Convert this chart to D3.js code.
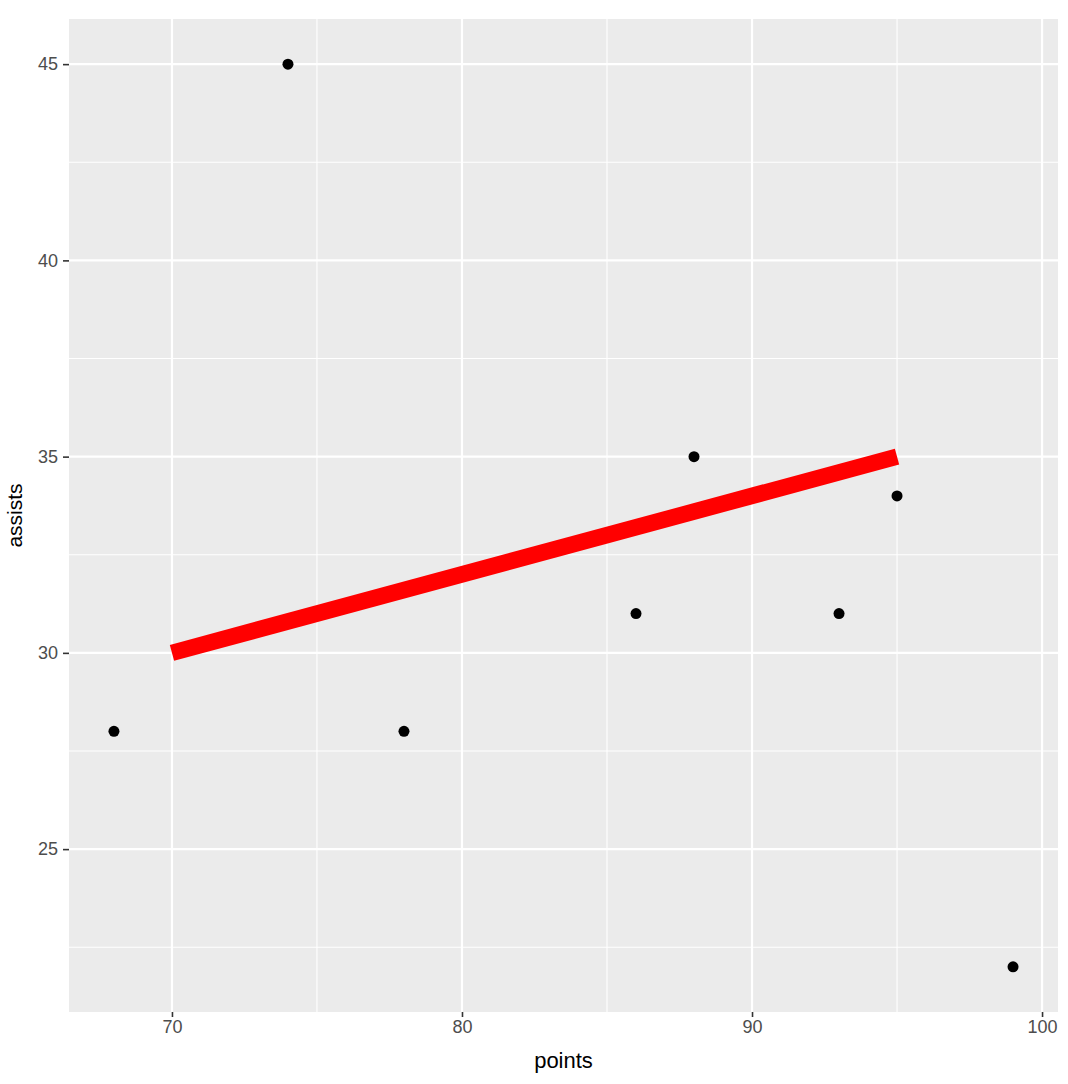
<!DOCTYPE html>
<html>
<head>
<meta charset="utf-8">
<script src="https://cdn.jsdelivr.net/npm/d3@7"></script>
<style>
  body { margin: 0; background: #fff; }
  text { font-family: "Liberation Sans", Arial, sans-serif; }
</style>
</head>
<body>
<div id="chart"></div>
<script>
// data
const points  = [68, 74, 78, 86, 88, 93, 95, 99];
const assists = [28, 45, 28, 31, 35, 31, 34, 22];
const segX = [70, 95];
const segY = [30, 35];
const xTicks = [70, 80, 90, 100];
const yTicks = [25, 30, 35, 40, 45];

const W = 1068, H = 1084;
const m = {top: 19, right: 10, bottom: 72, left: 69};

const svg = d3.select("#chart").append("svg")
    .attr("width", W).attr("height", H);

// ggplot style 5% expansion
const xr = d3.extent(points), yr = d3.extent(assists);
const xPad = (xr[1] - xr[0]) * 0.05, yPad = (yr[1] - yr[0]) * 0.05;

const x = d3.scaleLinear()
    .domain([xr[0] - xPad, xr[1] + xPad])
    .range([m.left, W - m.right]);
const y = d3.scaleLinear()
    .domain([yr[0] - yPad, yr[1] + yPad])
    .range([H - m.bottom, m.top]);

// panel
svg.append("rect")
    .attr("x", m.left).attr("y", m.top)
    .attr("width", W - m.right - m.left)
    .attr("height", H - m.bottom - m.top)
    .attr("fill", "#ebebeb");

const grid = svg.append("g");
// minor grid
const xMinor = xTicks.slice(0, -1).map(d => d + 5).concat([xTicks[0] - 5]);
const yMinor = yTicks.map(d => d - 2.5);
grid.selectAll(".xmin").data(xMinor.filter(d => d > x.domain()[0] && d < x.domain()[1]))
  .join("line")
    .attr("x1", d => x(d)).attr("x2", d => x(d))
    .attr("y1", m.top).attr("y2", H - m.bottom)
    .attr("stroke", "#fff").attr("stroke-width", 1.1);
grid.selectAll(".ymin").data(yMinor.filter(d => d > y.domain()[0] && d < y.domain()[1]))
  .join("line")
    .attr("y1", d => y(d)).attr("y2", d => y(d))
    .attr("x1", m.left).attr("x2", W - m.right)
    .attr("stroke", "#fff").attr("stroke-width", 1.1);
// major grid
grid.selectAll(".xmaj").data(xTicks)
  .join("line")
    .attr("x1", d => x(d)).attr("x2", d => x(d))
    .attr("y1", m.top).attr("y2", H - m.bottom)
    .attr("stroke", "#fff").attr("stroke-width", 2.2);
grid.selectAll(".ymaj").data(yTicks)
  .join("line")
    .attr("y1", d => y(d)).attr("y2", d => y(d))
    .attr("x1", m.left).attr("x2", W - m.right)
    .attr("stroke", "#fff").attr("stroke-width", 2.2);

// axes
const xAxis = svg.append("g")
    .attr("transform", `translate(0,${H - m.bottom})`)
    .call(d3.axisBottom(x).tickValues(xTicks).tickSize(5).tickPadding(3));
const yAxis = svg.append("g")
    .attr("transform", `translate(${m.left},0)`)
    .call(d3.axisLeft(y).tickValues(yTicks).tickSize(6).tickPadding(5));
[xAxis, yAxis].forEach(a => {
  a.select(".domain").remove();
  a.attr("font-size", null).attr("font-family", null);
  a.selectAll(".tick line").attr("stroke", "#333").attr("stroke-width", 1.6);
  a.selectAll(".tick text").attr("fill", "#4d4d4d")
      .style("font-size", "18px");
});

// axis titles
svg.append("text")
    .attr("x", (m.left + W - m.right) / 2).attr("y", H - 16)
    .attr("text-anchor", "middle")
    .style("font-size", "22px").attr("fill", "#000")
    .text("points");
svg.append("text")
    .attr("transform", `translate(22,${(m.top + H - m.bottom) / 2}) rotate(-90)`)
    .attr("text-anchor", "middle")
    .style("font-size", "21px").attr("fill", "#000")
    .text("assists");

// points
svg.selectAll(".pt").data(points)
  .join("circle")
    .attr("cx", d => x(d))
    .attr("cy", (d, i) => y(assists[i]))
    .attr("r", 5.5)
    .attr("fill", "#000");

// red segment
svg.append("line")
    .attr("x1", x(segX[0])).attr("y1", y(segY[0]))
    .attr("x2", x(segX[1])).attr("y2", y(segY[1]))
    .attr("stroke", "red").attr("stroke-width", 16.5);
</script>
</body>
</html>
